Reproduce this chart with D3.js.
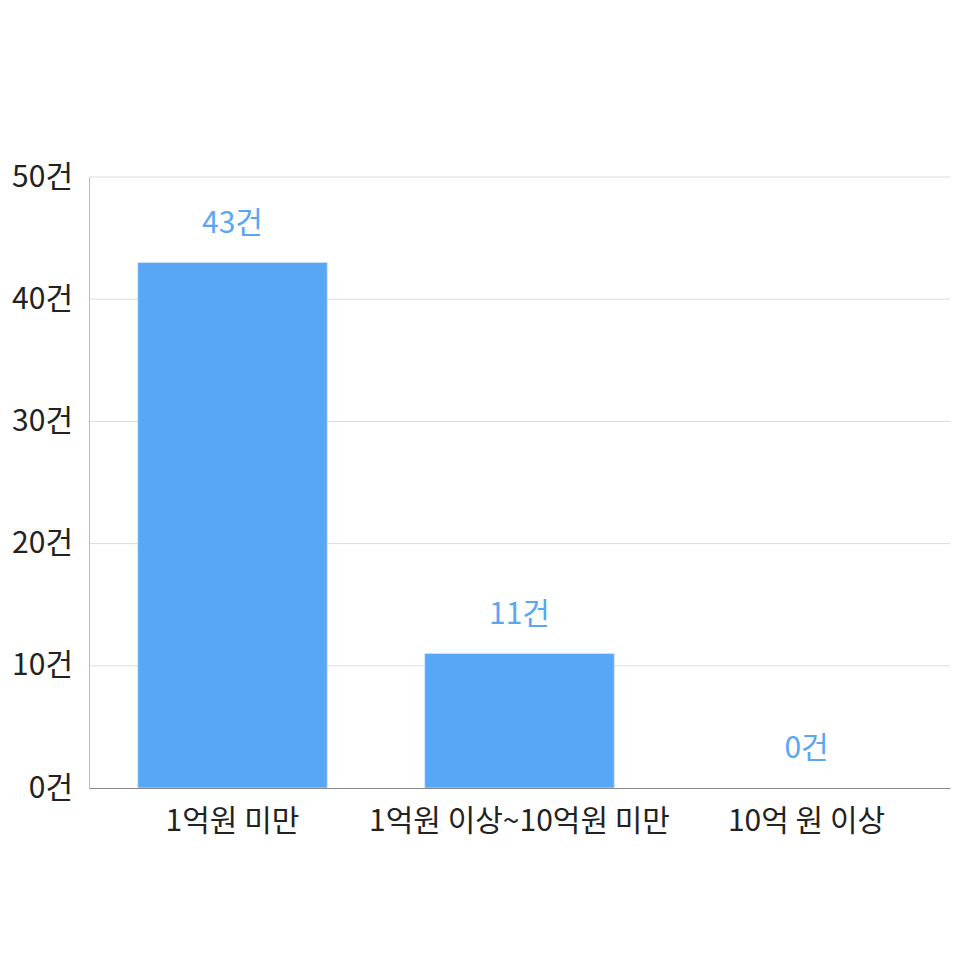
<!DOCTYPE html>
<html>
<head>
<meta charset="utf-8">
<script src="https://cdn.jsdelivr.net/npm/d3@7"></script>
<style>
  body { margin: 0; background: #fff; }
  text { font-family: "Noto Sans CJK KR", "Noto Sans", sans-serif; }
</style>
</head>
<body>
<script>
var categories = ["1억원 미만", "1억원 이상~10억원 미만", "10억 원 이상"];
var counts = [43, 11, 0];
var yTicks = [0, 10, 20, 30, 40, 50];

var margin = {top: 177, right: 16, bottom: 178, left: 89},
    width = 966 - margin.left - margin.right,
    height = 966 - margin.top - margin.bottom;

var svg = d3.select("body").append("svg")
    .attr("width", 966)
    .attr("height", 966)
  .append("g")
    .attr("transform", "translate(" + margin.left + "," + margin.top + ")");

var x = d3.scaleBand().domain(categories).range([0, width]).paddingInner(0.34).paddingOuter(0.17);
var y = d3.scaleLinear().domain([0, 50]).range([height, 0]);

// gridlines
svg.selectAll(".grid")
  .data(yTicks.filter(function(d) { return d > 0; }))
  .enter().append("line")
    .attr("x1", 0).attr("x2", width)
    .attr("y1", function(d) { return y(d); })
    .attr("y2", function(d) { return y(d); })
    .style("stroke", "#dcdcdc")
    .style("stroke-width", 1);

// bars
svg.selectAll(".bar")
  .data(counts)
  .enter().append("rect")
    .attr("x", function(d, i) { return x(categories[i]); })
    .attr("y", function(d) { return y(d); })
    .attr("width", x.bandwidth())
    .attr("height", function(d) { return height - y(d); })
    .style("fill", "#58a7f6")
    .style("stroke", "#cfe4fb")
    .style("stroke-width", 0.8);

// value labels
svg.selectAll(".val")
  .data(counts)
  .enter().append("text")
    .attr("x", function(d, i) { return x(categories[i]) + x.bandwidth() / 2; })
    .attr("y", function(d) { return y(d) - 30; })
    .attr("text-anchor", "middle")
    .style("font-size", "30px")
    .style("fill", "#5aa6f4")
    .text(function(d) { return d + "건"; });

// y axis
var yAxis = svg.append("g")
    .call(d3.axisLeft(y).tickValues(yTicks).tickSize(0).tickPadding(16)
      .tickFormat(function(d) { return d + "건"; }));
yAxis.select(".domain").style("stroke", "#bbb");
yAxis.selectAll("text").style("font-size", "30px").style("fill", "#222")
    .attr("dy", "0.3em");

// x axis
var xAxis = svg.append("g")
    .attr("transform", "translate(0," + height + ")")
    .call(d3.axisBottom(x).tickSize(0).tickPadding(22));
xAxis.select(".domain").style("stroke", "#888");
xAxis.selectAll("text").style("font-size", "30px").style("fill", "#222");
</script>
</body>
</html>
